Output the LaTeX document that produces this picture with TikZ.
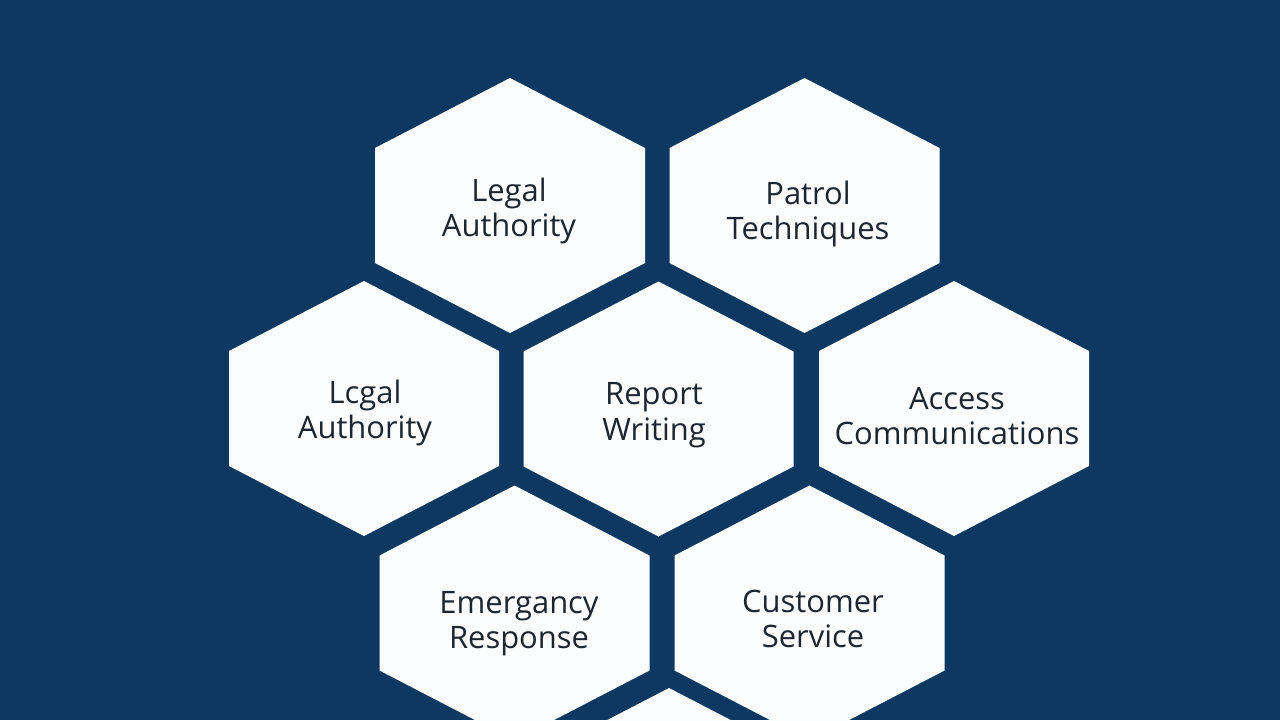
\documentclass[tikz,border=0pt]{standalone}
\usepackage{fontspec}
\setmainfont{Open Sans}
\usetikzlibrary{positioning}
\definecolor{navybg}{RGB}{13,56,97}
\definecolor{hexwhite}{RGB}{252,253,254}
\definecolor{labelink}{RGB}{28,37,48}
\tikzset{
    hexlabel/.style={align=center,font=\fontsize{17.6}{20.2}\selectfont,text=labelink,inner sep=0pt},
    pics/hexcell/.style={code={
        \fill[hexwhite] (0,-127.5) -- (135,-57.5) -- (135,57.5) -- (0,127.5) -- (-135,57.5) -- (-135,-57.5) -- cycle;
    }}
}
\begin{document}
\begin{tikzpicture}[x=0.02cm,y=-0.02cm]
    \useasboundingbox (0,0) rectangle (1280,720);
    \clip (0,0) rectangle (1280,720);
    \fill[navybg] (0,0) rectangle (1280,720);

    % Top row
    \pic at (510,205.5) {hexcell};
    \pic at (804.5,205.5) {hexcell};
    \node[hexlabel] (legaltop) at (509,211) {Legal\\Authority};
    \node[hexlabel] (patrol) at (808,214) {Patrol\\Techniques};

    % Middle row
    \pic at (364,408.5) {hexcell};
    \pic at (658.5,409) {hexcell};
    \pic at (954,408.5) {hexcell};
    \node[hexlabel] (legalmid) at (365,413) {Lcgal\\Authority};
    \node[hexlabel] (report) at (654,415) {Report\\Writing};
    \node[hexlabel] (access) at (957,416) {Access\\Communications};

    % Bottom row
    \pic at (514.5,613) {hexcell};
    \pic at (809.5,613) {hexcell};
    \pic at (669,815.5) {hexcell};
    \node[hexlabel] (emergency) at (519,623.5) {Emergancy\\Response};
    \node[hexlabel] (customer) at (813,619) {Customer\\Service};
\end{tikzpicture}
\end{document}
